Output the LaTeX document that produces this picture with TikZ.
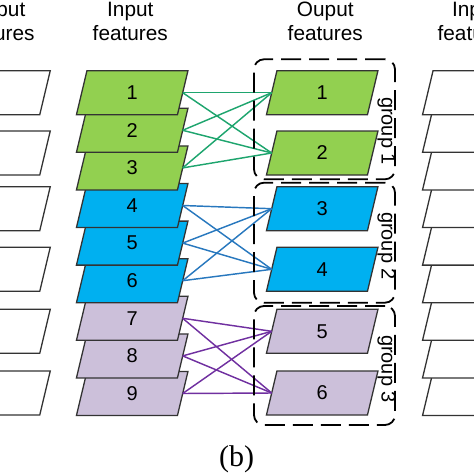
\documentclass[tikz,border=0pt]{standalone}
\usepackage{fontspec}
\setmainfont{Liberation Sans}
\newfontfamily\serifb{Liberation Serif}
\definecolor{gfill}{HTML}{92D050}
\definecolor{bfill}{HTML}{00B0F0}
\definecolor{pfill}{HTML}{CCC0DA}
\definecolor{gline}{RGB}{30,165,110}
\definecolor{bline}{RGB}{40,120,190}
\definecolor{pline}{RGB}{112,48,160}
\definecolor{edge}{HTML}{333333}
\newcommand\pgr[5]{%
  \node[pgbox] (#1) at (#2,#3) {};
  \filldraw[pgline, fill=#4] ([xshift=-5.25pt]#1.south west) -- ([xshift=-5.25pt]#1.south east)
     -- ([xshift=5.25pt]#1.north east) -- ([xshift=5.25pt]#1.north west) -- cycle;
  \node[numtext] (#1t) at (#1) {#5};
}
\begin{document}
\begin{tikzpicture}[x=1pt,y=-1pt,
  pgbox/.style={minimum width=101pt, minimum height=44pt, inner sep=0pt, outer sep=0pt},
  pgline/.style={draw=edge, line width=1.3pt, line join=miter},
  numtext/.style={font=\fontsize{20}{24}\selectfont, inner sep=0pt},
  head/.style={font=\fontsize{20.8}{25}\selectfont, inner sep=0pt, anchor=base},
  conn/.style={line width=1.45pt},
  grpbox/.style={draw=black, line width=1.8pt, dash pattern=on 20pt off 8pt, rounded corners=10pt,
     minimum width=141pt, minimum height=120pt, inner sep=0pt},
  grplabel/.style={font=\fontsize{20}{24}\selectfont, inner sep=0pt, rotate=-90}
]
\useasboundingbox (0,0) rectangle (474,474);
\clip (0,0) rectangle (474,474);

% headings
\node[head] (h1a) at (-3,16) {Ouput};
\node[head] (h1b) at (-3,40.7) {features};
\node[head] (h2a) at (130.3,16) {Input};
\node[head] (h2b) at (130.3,40.7) {features};
\node[head] (h3a) at (325.3,16) {Ouput};
\node[head] (h3b) at (325.3,40.7) {features};
\node[head] (h4a) at (475.2,16) {Input};
\node[head] (h4b) at (475.2,40.7) {features};

% left column (previous output features)
\pgr{l1}{-5.5}{92.7}{white}{}
\pgr{l2}{-5.5}{153}{white}{}
\pgr{l3}{-5.5}{208.7}{white}{}
\pgr{l4}{-5.5}{269.3}{white}{}
\pgr{l5}{-5.5}{331.3}{white}{}
\pgr{l6}{-5.5}{393}{white}{}

% right column (next input features), drawn bottom to top
\pgr{r9}{478.3}{393.5}{white}{}
\pgr{r8}{478.3}{355.9}{white}{}
\pgr{r7}{478.3}{318.3}{white}{}
\pgr{r6}{478.3}{280.7}{white}{}
\pgr{r5}{478.3}{243.1}{white}{}
\pgr{r4}{478.3}{205.5}{white}{}
\pgr{r3}{478.3}{167.9}{white}{}
\pgr{r2}{478.3}{130.3}{white}{}
\pgr{r1}{478.3}{92.7}{white}{}

% input stack, drawn bottom to top
\pgr{in9}{132.2}{393.5}{pfill}{9}
\pgr{in8}{132.2}{355.9}{pfill}{8}
\pgr{in7}{132.2}{318.3}{pfill}{7}
\pgr{in6}{132.2}{280.7}{bfill}{6}
\pgr{in5}{132.2}{243.1}{bfill}{5}
\pgr{in4}{132.2}{205.5}{bfill}{4}
\pgr{in3}{132.2}{167.9}{gfill}{3}
\pgr{in2}{132.2}{130.3}{gfill}{2}
\pgr{in1}{132.2}{92.7}{gfill}{1}

% output features
\pgr{out1}{322.2}{92.7}{gfill}{1}
\pgr{out2}{322.2}{153}{gfill}{2}
\pgr{out3}{322.2}{208.7}{bfill}{3}
\pgr{out4}{322.2}{269.3}{bfill}{4}
\pgr{out5}{322.2}{331.3}{pfill}{5}
\pgr{out6}{322.2}{393}{pfill}{6}

% connectors
\foreach \i in {1,2,3}{\foreach \j in {1,2}{\draw[conn, draw=gline] (in\i.east) -- (out\j.west);}}
\foreach \i in {4,5,6}{\foreach \j in {3,4}{\draw[conn, draw=bline] (in\i.east) -- (out\j.west);}}
\foreach \i in {7,8,9}{\foreach \j in {5,6}{\draw[conn, draw=pline] (in\i.east) -- (out\j.west);}}

% group boxes
\node[grpbox] (g1) at (324.5,119.3) {};
\node[grpbox] (g2) at (324.5,242.7) {};
\node[grpbox, minimum height=119pt] (g3) at (324.5,365.5) {};
\node[grplabel] (g1l) at (386.5,131) {group 1};
\node[grplabel] (g2l) at (386.5,246) {group 2};
\node[grplabel] (g3l) at (386.5,369) {group 3};

% caption
\node[font=\serifb\fontsize{30}{36}\selectfont, inner sep=0pt, anchor=base] (cap) at (236.7,466) {(b)};
\end{tikzpicture}
\end{document}
